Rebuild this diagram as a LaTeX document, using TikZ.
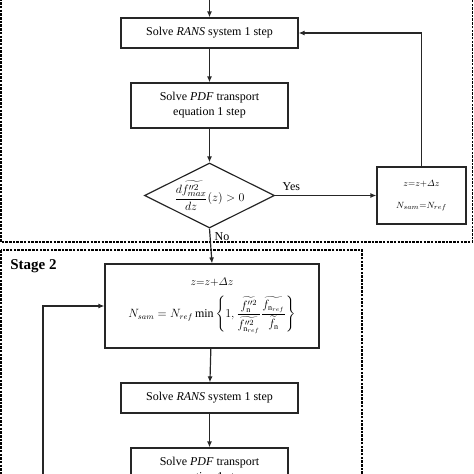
\documentclass[tikz,border=0pt]{standalone}
\usepackage{amsmath}
\usepackage{fontspec}
\setmainfont{Liberation Serif}
\usetikzlibrary{shapes.geometric,arrows.meta}
\begin{document}
\begin{tikzpicture}[x=1pt,y=-1pt,
  box/.style={draw=black!85, line width=1.2pt, inner sep=0pt, align=center, font=\fontsize{12}{15}\selectfont},
  arr/.style={draw=black!85, line width=1.2pt, -{Latex[length=6pt,width=5pt]}},
  stagebox/.style={draw=black, line width=1.7pt, dash pattern=on 2.5pt off 1.2pt},
  lbl/.style={inner sep=0pt, font=\fontsize{12}{14}\selectfont}]
\useasboundingbox (0,0) rectangle (474,474);
\clip (0,0) rectangle (474,474);
% stage frames
\draw[stagebox] (1,-20) rectangle (472.5,242);
\draw[stagebox] (1,250) rectangle (362,520);
\node[inner sep=0pt, font=\fontsize{15}{17}\selectfont\bfseries] (st2) at (33.5,266) {Stage 2};
% stage 1
\node[box, minimum width=177pt, minimum height=30pt] (rans1) at (209.5,33) {Solve \textit{RANS} system 1 step};
\node[box, minimum width=157pt, minimum height=45pt] (pdf1) at (209.5,105.5) {Solve \textit{PDF} transport\\equation 1 step};
\node[box, diamond, aspect=2, minimum width=130pt, minimum height=65pt, font=\fontsize{12.5}{14}\selectfont] (dec) at (209.5,195.5) {$\dfrac{d\widetilde{f^{\prime\prime 2}_{max}}}{dz}(z) > 0$};
\node[box, minimum width=89pt, minimum height=57pt, font=\fontsize{9.5}{11}\selectfont] (upd1) at (421.5,195.5) {$z{=}z{+}\varDelta z$\\[11pt]$N_{sam}{=}N_{ref}$};
% stage 2
\node[box, minimum width=214pt, minimum height=84pt] (s2box) at (212,306) {{\fontsize{10.5}{12}\selectfont$z{=}z{+}\varDelta z$}\\[9pt]
  {\fontsize{12}{14}\selectfont$N_{sam} = N_{ref}\min\left\{1,\dfrac{\widetilde{f_{\mathrm{n}}^{\prime\prime 2}}}{\widetilde{f_{\mathrm{n}_{ref}}^{\prime\prime 2}}}\dfrac{\widetilde{f_{\mathrm{n}_{ref}}}}{\widetilde{f_{\mathrm{n}}}}\right\}$}};
\node[box, minimum width=177pt, minimum height=30pt] (rans2) at (209.5,398) {Solve \textit{RANS} system 1 step};
\node[box, minimum width=157pt, minimum height=45pt] (pdf2) at (209.5,470.5) {Solve \textit{PDF} transport\\equation 1 step};
% connectors
\coordinate (top) at (209.5,-5);
\coordinate (loop) at (43,490);
\draw[arr] (top) -- (rans1.north);
\draw[arr] (rans1) -- (pdf1);
\draw[arr] (pdf1) -- (dec);
\draw[arr] (dec.east) -- (upd1.west) node[lbl, pos=0.16, above=4pt] {Yes};
\draw[arr] (upd1.north) |- (rans1.east);
\draw[arr] (dec.south) -- (s2box.north) node[lbl, pos=0.22, right=4pt] {No};
\draw[arr] (s2box) -- (rans2);
\draw[arr] (rans2) -- (pdf2);
\draw[arr] (loop) |- (s2box.west);
\end{tikzpicture}
\end{document}
